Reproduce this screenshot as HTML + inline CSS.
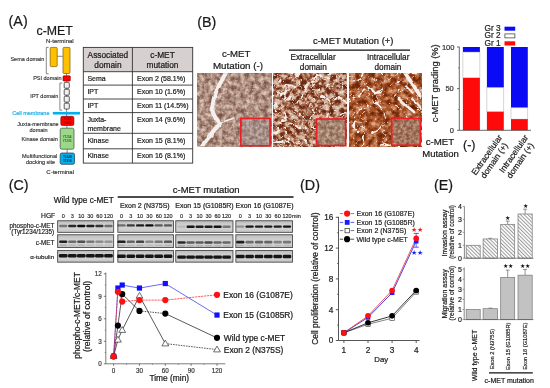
<!DOCTYPE html>
<html><head><meta charset="utf-8"><title>c-MET figure</title>
<style>html,body{margin:0;padding:0;background:#fff;overflow:hidden}svg{display:block}text{font-family:"Liberation Sans", Arial, sans-serif}</style>
</head><body>
<svg width="550" height="388" viewBox="0 0 550 388">
<defs>
<filter id="bl" x="-50%" y="-80%" width="200%" height="260%"><feGaussianBlur stdDeviation="0.5"/></filter>
<linearGradient id="stripg" x1="0" y1="0" x2="0" y2="1"><stop offset="0" stop-color="#bababa"/><stop offset="0.3" stop-color="#cecece"/><stop offset="0.7" stop-color="#d2d2d2"/><stop offset="1" stop-color="#c2c2c2"/></linearGradient>
<pattern id="hatch" patternUnits="userSpaceOnUse" width="2.6" height="2.6" patternTransform="rotate(-45)">
<rect width="2.6" height="2.6" fill="#fff"/><rect x="0" y="0" width="1.0" height="2.6" fill="#9a9a9a"/></pattern>
</defs>
<rect width="550" height="388" fill="#fff"/>
<text x="8.6" y="25.6" font-size="14.3" text-anchor="start" fill="#1a1a1a" stroke="#1a1a1a" stroke-width="0.22" >(A)</text>
<text x="36.5" y="34.7" font-size="12.3" text-anchor="start" fill="#1a1a1a" stroke="#1a1a1a" stroke-width="0.22" >c-MET</text>
<text x="46" y="42.5" font-size="6" text-anchor="start" fill="#333" stroke="#333" stroke-width="0.17" >N-terminal</text>
<path d="M48.6,47.4 H46.3 V73.8 H48.6" stroke="#555" stroke-width="0.7" fill="none" />
<rect x="50.2" y="47.4" width="7.0" height="19.2" fill="#FFC000" stroke="#7a5a00" stroke-width="0.7" rx="1" />
<line x1="57.2" y1="56.3" x2="62.9" y2="56.3" stroke="#555" stroke-width="0.7" />
<rect x="63.0" y="47.4" width="7.0" height="26.1" fill="#FFC000" stroke="#7a5a00" stroke-width="0.7" rx="1" />
<line x1="66.5" y1="73.5" x2="66.5" y2="75.8" stroke="#555" stroke-width="0.7" />
<rect x="63.0" y="75.8" width="7.3" height="5.3" fill="#FF0000" stroke="#7a0000" stroke-width="0.6" rx="0.8" />
<line x1="66.6" y1="81.1" x2="66.6" y2="116.3" stroke="#555" stroke-width="0.7" />
<rect x="64.2" y="82.3" width="5.1" height="5.9" fill="#f0f0f0" stroke="#2a2a2a" stroke-width="0.75" rx="0.9" />
<rect x="64.2" y="89.25" width="5.1" height="5.9" fill="#f0f0f0" stroke="#2a2a2a" stroke-width="0.75" rx="0.9" />
<rect x="64.2" y="96.2" width="5.1" height="5.9" fill="#f0f0f0" stroke="#2a2a2a" stroke-width="0.75" rx="0.9" />
<rect x="64.2" y="103.15" width="5.1" height="5.9" fill="#f0f0f0" stroke="#2a2a2a" stroke-width="0.75" rx="0.9" />
<path d="M62.2,83.0 H59.9 V110.2 H62.2" stroke="#555" stroke-width="0.7" fill="none" />
<rect x="52.8" y="111.9" width="27.2" height="2.6" fill="#00B0F0" stroke="none" stroke-width="1" rx="0" />
<rect x="60.8" y="116.3" width="13.1" height="9.2" fill="#FF0000" stroke="#600" stroke-width="0.6" rx="1.6" />
<text x="67.35" y="120.0" font-size="2.6" text-anchor="middle" fill="#900" stroke="#900" stroke-width="0.07" >Y1003</text>
<text x="67.35" y="123.6" font-size="2.6" text-anchor="middle" fill="#900" stroke="#900" stroke-width="0.07" >Y1003</text>
<line x1="66.9" y1="125.5" x2="66.9" y2="128.2" stroke="#555" stroke-width="0.7" />
<rect x="60.2" y="128.2" width="13.8" height="21.0" fill="#9bd88a" stroke="#3a4a3a" stroke-width="0.7" rx="1.6" />
<text x="67.1" y="137.6" font-size="3.0" text-anchor="middle" fill="#1f5a1f" stroke="#1f5a1f" stroke-width="0.08" >Y1234</text>
<text x="67.1" y="141.6" font-size="3.0" text-anchor="middle" fill="#1f5a1f" stroke="#1f5a1f" stroke-width="0.08" >Y1235</text>
<line x1="67.1" y1="149.2" x2="67.1" y2="153.0" stroke="#555" stroke-width="0.7" />
<rect x="60.2" y="153.0" width="14.3" height="11.3" fill="#00B0F0" stroke="#234" stroke-width="0.7" rx="1.6" />
<text x="67.3" y="157.9" font-size="3.0" text-anchor="middle" fill="#023" stroke="#023" stroke-width="0.08" >Y1349</text>
<text x="67.3" y="161.9" font-size="3.0" text-anchor="middle" fill="#023" stroke="#023" stroke-width="0.08" >Y1356</text>
<text x="44.4" y="60.8" font-size="5.5" text-anchor="end" fill="#333" stroke="#333" stroke-width="0.15" >Sema domain</text>
<text x="61.6" y="80.3" font-size="5.5" text-anchor="end" fill="#333" stroke="#333" stroke-width="0.15" >PSI domain</text>
<text x="58.4" y="97.9" font-size="5.5" text-anchor="end" fill="#333" stroke="#333" stroke-width="0.15" >IPT domain</text>
<text x="12.2" y="114.8" font-size="5.5" text-anchor="start" fill="#1cb2e6" stroke="#1cb2e6" stroke-width="0.20" >Cell membrane</text>
<text x="58.6" y="126.3" font-size="5.5" text-anchor="end" fill="#333" stroke="#333" stroke-width="0.15" >Juxta-membrane</text>
<text x="38.6" y="132.4" font-size="5.5" text-anchor="middle" fill="#333" stroke="#333" stroke-width="0.15" >domain</text>
<text x="57.9" y="141.0" font-size="5.5" text-anchor="end" fill="#333" stroke="#333" stroke-width="0.15" >Kinase domain</text>
<text x="39.6" y="158.1" font-size="5.5" text-anchor="middle" fill="#333" stroke="#333" stroke-width="0.15" >Multifunctional</text>
<text x="40.6" y="164.2" font-size="5.5" text-anchor="middle" fill="#333" stroke="#333" stroke-width="0.15" >docking site</text>
<text x="46.3" y="173.6" font-size="6" text-anchor="start" fill="#333" stroke="#333" stroke-width="0.17" >C-terminal</text>
<rect x="83.3" y="47.4" width="109.4" height="24.3" fill="#d6d0d0" stroke="none" stroke-width="1" rx="0" />
<rect x="83.3" y="47.4" width="109.4" height="115.7" fill="none" stroke="#333" stroke-width="0.9" rx="0" />
<line x1="132.4" y1="47.4" x2="132.4" y2="163.1" stroke="#333" stroke-width="0.9" />
<line x1="83.3" y1="71.7" x2="192.7" y2="71.7" stroke="#333" stroke-width="0.9" />
<line x1="83.3" y1="85.1" x2="192.7" y2="85.1" stroke="#333" stroke-width="0.9" />
<line x1="83.3" y1="99.0" x2="192.7" y2="99.0" stroke="#333" stroke-width="0.9" />
<line x1="83.3" y1="112.6" x2="192.7" y2="112.6" stroke="#333" stroke-width="0.9" />
<line x1="83.3" y1="133.3" x2="192.7" y2="133.3" stroke="#333" stroke-width="0.9" />
<line x1="83.3" y1="148.8" x2="192.7" y2="148.8" stroke="#333" stroke-width="0.9" />
<text x="107.9" y="58.4" font-size="8.3" text-anchor="middle" fill="#1a1a1a" stroke="#1a1a1a" stroke-width="0.22" >Associated</text>
<text x="107.9" y="67.7" font-size="8.3" text-anchor="middle" fill="#1a1a1a" stroke="#1a1a1a" stroke-width="0.22" >domain</text>
<text x="162.5" y="58.3" font-size="8.3" text-anchor="middle" fill="#1a1a1a" stroke="#1a1a1a" stroke-width="0.22" >c-MET</text>
<text x="162.5" y="67.8" font-size="8.3" text-anchor="middle" fill="#1a1a1a" stroke="#1a1a1a" stroke-width="0.22" >mutation</text>
<text x="87.4" y="80.7" font-size="7" text-anchor="start" fill="#1a1a1a" stroke="#1a1a1a" stroke-width="0.19" >Sema</text>
<text x="137.0" y="80.7" font-size="7" text-anchor="start" fill="#1a1a1a" stroke="#1a1a1a" stroke-width="0.19" >Exon 2 (58.1%)</text>
<text x="87.4" y="94.3" font-size="7" text-anchor="start" fill="#1a1a1a" stroke="#1a1a1a" stroke-width="0.19" >IPT</text>
<text x="137.0" y="94.3" font-size="7" text-anchor="start" fill="#1a1a1a" stroke="#1a1a1a" stroke-width="0.19" >Exon 10 (1.6%)</text>
<text x="87.4" y="107.9" font-size="7" text-anchor="start" fill="#1a1a1a" stroke="#1a1a1a" stroke-width="0.19" >IPT</text>
<text x="137.0" y="107.9" font-size="7" text-anchor="start" fill="#1a1a1a" stroke="#1a1a1a" stroke-width="0.19" >Exon 11 (14.5%)</text>
<text x="87.4" y="121.8" font-size="7" text-anchor="start" fill="#1a1a1a" stroke="#1a1a1a" stroke-width="0.19" >Juxta-</text>
<text x="137.0" y="121.8" font-size="7" text-anchor="start" fill="#1a1a1a" stroke="#1a1a1a" stroke-width="0.19" >Exon 14 (9.6%)</text>
<text x="87.4" y="142.6" font-size="7" text-anchor="start" fill="#1a1a1a" stroke="#1a1a1a" stroke-width="0.19" >Kinase</text>
<text x="137.0" y="142.6" font-size="7" text-anchor="start" fill="#1a1a1a" stroke="#1a1a1a" stroke-width="0.19" >Exon 15 (8.1%)</text>
<text x="87.4" y="158.1" font-size="7" text-anchor="start" fill="#1a1a1a" stroke="#1a1a1a" stroke-width="0.19" >Kinase</text>
<text x="137.0" y="158.1" font-size="7" text-anchor="start" fill="#1a1a1a" stroke="#1a1a1a" stroke-width="0.19" >Exon 16 (8.1%)</text>
<text x="87.4" y="130.7" font-size="7" text-anchor="start" fill="#1a1a1a" stroke="#1a1a1a" stroke-width="0.19" >membrane</text>
<text x="197.3" y="26.8" font-size="14.3" text-anchor="start" fill="#1a1a1a" stroke="#1a1a1a" stroke-width="0.22" >(B)</text>
<text x="236.2" y="57.4" font-size="9.6" text-anchor="middle" fill="#1a1a1a" stroke="#1a1a1a" stroke-width="0.22" >c-MET</text>
<text x="238.0" y="68.9" font-size="9.8" text-anchor="middle" fill="#1a1a1a" stroke="#1a1a1a" stroke-width="0.22" >Mutation (-)</text>
<text x="353.2" y="43.9" font-size="9.4" text-anchor="middle" fill="#1a1a1a" stroke="#1a1a1a" stroke-width="0.22" >c-MET Mutation (+)</text>
<line x1="289" y1="50.1" x2="410" y2="50.1" stroke="#111" stroke-width="1.3" />
<text x="313.1" y="60.0" font-size="8.2" text-anchor="middle" fill="#1a1a1a" stroke="#1a1a1a" stroke-width="0.22" >Extracellular</text>
<text x="313.3" y="70.0" font-size="8.2" text-anchor="middle" fill="#1a1a1a" stroke="#1a1a1a" stroke-width="0.22" >domain</text>
<text x="388.2" y="60.0" font-size="8.2" text-anchor="middle" fill="#1a1a1a" stroke="#1a1a1a" stroke-width="0.22" >Intracellular</text>
<text x="388.0" y="70.0" font-size="8.2" text-anchor="middle" fill="#1a1a1a" stroke="#1a1a1a" stroke-width="0.22" >domain</text>
<defs>
<filter id="hs0" x="0" y="0" width="100%" height="100%" filterUnits="objectBoundingBox" color-interpolation-filters="sRGB">
<feTurbulence type="fractalNoise" baseFrequency="0.22" numOctaves="4" seed="3" result="n"/>
<feColorMatrix in="n" type="matrix" values="1 0 0 0 0  1 0 0 0 0  1 0 0 0 0  0 0 0 0 1"/>
<feComponentTransfer result="m"><feFuncR type="table" tableValues="0.408 0.418 0.427 0.437 0.447 0.457 0.467 0.476 0.486 0.496 0.506 0.516 0.525 0.545 0.565 0.584 0.604 0.623 0.640 0.657 0.675 0.692 0.709 0.726 0.745 0.765 0.784 0.804 0.816 0.827 0.837 0.847 0.858 0.868 0.879 0.889 0.900 0.910 0.920 0.931 0.941"/><feFuncG type="table" tableValues="0.275 0.284 0.293 0.302 0.311 0.320 0.329 0.339 0.348 0.357 0.366 0.375 0.384 0.407 0.430 0.453 0.476 0.498 0.515 0.532 0.549 0.569 0.588 0.608 0.631 0.654 0.678 0.701 0.718 0.732 0.747 0.762 0.776 0.791 0.806 0.821 0.835 0.850 0.865 0.879 0.894"/><feFuncB type="table" tableValues="0.220 0.229 0.238 0.247 0.256 0.265 0.275 0.284 0.293 0.302 0.311 0.320 0.329 0.352 0.375 0.398 0.421 0.443 0.460 0.477 0.494 0.514 0.533 0.553 0.576 0.599 0.623 0.646 0.665 0.682 0.699 0.716 0.733 0.750 0.768 0.785 0.802 0.819 0.836 0.853 0.871"/></feComponentTransfer>
<feTurbulence type="turbulence" baseFrequency="0.16" numOctaves="2" seed="12" result="t2"/>
<feColorMatrix in="t2" type="matrix" values="0 0 0 0 0  0 0 0 0 0  0 0 0 0 0  1 0 0 0 0" result="t2a"/>
<feComponentTransfer in="t2a" result="v2"><feFuncA type="table" tableValues="0 0 0 0.6 0.6 0.6 0.6 0.54 0.48 0.42 0.36 0.3 0.24 0.18 0.12 0.06 0 0 0 0 0 0 0 0 0 0 0 0 0 0 0 0 0 0 0 0 0 0 0 0 0 0 0 0 0 0 0 0 0 0 0 0 0 0 0 0 0 0 0 0 0 0 0 0 0 0 0 0 0 0 0 0 0 0 0 0 0 0 0 0 0 0 0 0 0 0 0 0 0 0 0 0 0 0 0 0 0 0 0 0 0 0 0 0 0 0 0 0 0 0 0 0 0 0 0 0 0 0 0 0 0 0 0 0 0 0 0 0 0 0 0 0 0 0 0 0 0 0 0 0 0 0 0 0 0 0 0 0 0 0 0 0 0 0 0 0 0 0 0 0 0 0 0 0 0 0 0 0 0 0 0 0 0 0 0 0 0 0 0 0 0 0 0 0 0 0 0 0 0 0 0 0 0 0 0 0 0 0 0 0 0"/></feComponentTransfer>
<feFlood flood-color="#dcc8c0"/>
<feComposite in2="v2" operator="in" result="w2"/>
<feTurbulence type="turbulence" baseFrequency="0.05" numOctaves="3" seed="8" result="t"/>
<feColorMatrix in="t" type="matrix" values="0 0 0 0 0  0 0 0 0 0  0 0 0 0 0  1 0 0 0 0" result="ta"/>
<feComponentTransfer in="ta" result="va"><feFuncA type="table" tableValues="0 0 0 0 0 0 0 0 0 0 0 0 0 0 0 0 0 0 0 0 0 0 0 0 0 0 0 0 0 0 0 0 0 0 0 0 0 0 0 0 0 0 0 0 0 0 0 0 0 0 0 0 0 0 0 0 0 0 0 0 0 0 0 0 0 0 0 0 0 0 0 0 0 0 0 0 0 0 0 0 0 0 0 0 0 0 0 0 0 0 0 0 0 0 0 0 0 0 0 0 0 0 0 0 0 0 0 0 0 0 0 0 0 0 0 0 0 0 0 0 0 0 0 0 0 0 0 0 0 0 0 0 0 0 0 0 0 0 0 0 0 0 0 0 0 0 0 0 0 0 0 0 0 0 0 0 0 0 0 0 0 0 0 0 0 0 0 0 0 0 0 0 0 0 0 0 0 0 0 0 0 0 0 0 0 0 0 0 0 0 0 0 0 0 0 0 0 0 0 0 0"/></feComponentTransfer>
<feFlood flood-color="#f4eeec"/>
<feComposite in2="va" operator="in" result="w"/>
<feMerge result="all"><feMergeNode in="m"/><feMergeNode in="w2"/><feMergeNode in="w"/></feMerge>
<feGaussianBlur in="all" stdDeviation="0.3"/>
</filter>
<filter id="hi0" x="0" y="0" width="100%" height="100%" filterUnits="objectBoundingBox" color-interpolation-filters="sRGB">
<feTurbulence type="fractalNoise" baseFrequency="0.3" numOctaves="3" seed="23" result="n"/>
<feColorMatrix in="n" type="matrix" values="1 0 0 0 0  1 0 0 0 0  1 0 0 0 0  0 0 0 0 1"/>
<feComponentTransfer><feFuncR type="table" tableValues="0.439 0.450 0.460 0.470 0.480 0.491 0.501 0.511 0.522 0.532 0.542 0.552 0.563 0.573 0.583 0.594 0.604 0.616 0.627 0.639 0.651 0.665 0.678 0.692 0.706 0.717 0.727 0.738 0.749 0.760 0.771 0.781 0.792 0.803 0.814 0.825 0.835 0.846 0.857 0.868 0.878"/><feFuncG type="table" tableValues="0.345 0.355 0.366 0.376 0.386 0.397 0.407 0.417 0.427 0.438 0.448 0.458 0.469 0.479 0.489 0.500 0.510 0.522 0.533 0.545 0.557 0.573 0.588 0.604 0.620 0.633 0.646 0.659 0.673 0.686 0.699 0.712 0.725 0.739 0.752 0.765 0.778 0.792 0.805 0.818 0.831"/><feFuncB type="table" tableValues="0.306 0.317 0.327 0.338 0.349 0.360 0.371 0.381 0.392 0.403 0.414 0.425 0.435 0.446 0.457 0.468 0.478 0.490 0.502 0.514 0.525 0.541 0.557 0.573 0.588 0.602 0.617 0.631 0.645 0.659 0.674 0.688 0.702 0.716 0.730 0.745 0.759 0.773 0.787 0.801 0.816"/></feComponentTransfer>
<feGaussianBlur stdDeviation="0.25"/>
</filter>
<filter id="hs1" x="0" y="0" width="100%" height="100%" filterUnits="objectBoundingBox" color-interpolation-filters="sRGB">
<feTurbulence type="fractalNoise" baseFrequency="0.2" numOctaves="4" seed="7" result="n"/>
<feColorMatrix in="n" type="matrix" values="1 0 0 0 0  1 0 0 0 0  1 0 0 0 0  0 0 0 0 1"/>
<feComponentTransfer result="m"><feFuncR type="table" tableValues="0.290 0.301 0.313 0.324 0.335 0.346 0.357 0.369 0.380 0.391 0.402 0.413 0.425 0.436 0.447 0.478 0.510 0.541 0.573 0.608 0.643 0.682 0.722 0.755 0.789 0.818 0.827 0.836 0.845 0.855 0.864 0.873 0.883 0.892 0.901 0.910 0.920 0.929 0.938 0.948 0.957"/><feFuncG type="table" tableValues="0.086 0.094 0.101 0.108 0.115 0.123 0.130 0.137 0.145 0.152 0.159 0.166 0.174 0.181 0.188 0.220 0.251 0.282 0.314 0.361 0.408 0.467 0.525 0.579 0.632 0.678 0.693 0.709 0.724 0.740 0.755 0.770 0.786 0.801 0.817 0.832 0.848 0.863 0.879 0.894 0.910"/><feFuncB type="table" tableValues="0.016 0.022 0.028 0.034 0.040 0.046 0.053 0.059 0.065 0.071 0.077 0.083 0.090 0.096 0.102 0.127 0.153 0.178 0.204 0.251 0.298 0.361 0.424 0.485 0.547 0.600 0.619 0.638 0.657 0.676 0.695 0.714 0.734 0.753 0.772 0.791 0.810 0.829 0.848 0.867 0.886"/></feComponentTransfer>
<feTurbulence type="turbulence" baseFrequency="0.15" numOctaves="2" seed="16" result="t2"/>
<feColorMatrix in="t2" type="matrix" values="0 0 0 0 0  0 0 0 0 0  0 0 0 0 0  1 0 0 0 0" result="t2a"/>
<feComponentTransfer in="t2a" result="v2"><feFuncA type="table" tableValues="0 0 0 0.85 0.85 0.85 0.85 0.85 0.85 0.78 0.71 0.64 0.57 0.5 0.42 0.35 0.28 0.21 0.14 0.07 0 0 0 0 0 0 0 0 0 0 0 0 0 0 0 0 0 0 0 0 0 0 0 0 0 0 0 0 0 0 0 0 0 0 0 0 0 0 0 0 0 0 0 0 0 0 0 0 0 0 0 0 0 0 0 0 0 0 0 0 0 0 0 0 0 0 0 0 0 0 0 0 0 0 0 0 0 0 0 0 0 0 0 0 0 0 0 0 0 0 0 0 0 0 0 0 0 0 0 0 0 0 0 0 0 0 0 0 0 0 0 0 0 0 0 0 0 0 0 0 0 0 0 0 0 0 0 0 0 0 0 0 0 0 0 0 0 0 0 0 0 0 0 0 0 0 0 0 0 0 0 0 0 0 0 0 0 0 0 0 0 0 0 0 0 0 0 0 0 0 0 0 0 0 0 0 0 0 0 0 0"/></feComponentTransfer>
<feFlood flood-color="#f0e0d6"/>
<feComposite in2="v2" operator="in" result="w2"/>
<feTurbulence type="turbulence" baseFrequency="0.07" numOctaves="3" seed="12" result="t"/>
<feColorMatrix in="t" type="matrix" values="0 0 0 0 0  0 0 0 0 0  0 0 0 0 0  1 0 0 0 0" result="ta"/>
<feComponentTransfer in="ta" result="va"><feFuncA type="table" tableValues="0 0 0 1 1 1 1 1 1 1 1 1 1 1 1 1 1 1 1 1 1 0.92 0.83 0.75 0.67 0.58 0.5 0.42 0.33 0.25 0.17 0.08 0 0 0 0 0 0 0 0 0 0 0 0 0 0 0 0 0 0 0 0 0 0 0 0 0 0 0 0 0 0 0 0 0 0 0 0 0 0 0 0 0 0 0 0 0 0 0 0 0 0 0 0 0 0 0 0 0 0 0 0 0 0 0 0 0 0 0 0 0 0 0 0 0 0 0 0 0 0 0 0 0 0 0 0 0 0 0 0 0 0 0 0 0 0 0 0 0 0 0 0 0 0 0 0 0 0 0 0 0 0 0 0 0 0 0 0 0 0 0 0 0 0 0 0 0 0 0 0 0 0 0 0 0 0 0 0 0 0 0 0 0 0 0 0 0 0 0 0 0 0 0 0 0 0 0 0 0 0 0 0 0 0 0 0 0 0 0 0 0"/></feComponentTransfer>
<feFlood flood-color="#f4ebe6"/>
<feComposite in2="va" operator="in" result="w"/>
<feMerge result="all"><feMergeNode in="m"/><feMergeNode in="w2"/><feMergeNode in="w"/></feMerge>
<feGaussianBlur in="all" stdDeviation="0.3"/>
</filter>
<filter id="hi1" x="0" y="0" width="100%" height="100%" filterUnits="objectBoundingBox" color-interpolation-filters="sRGB">
<feTurbulence type="fractalNoise" baseFrequency="0.3" numOctaves="3" seed="27" result="n"/>
<feColorMatrix in="n" type="matrix" values="1 0 0 0 0  1 0 0 0 0  1 0 0 0 0  0 0 0 0 1"/>
<feComponentTransfer><feFuncR type="table" tableValues="0.416 0.426 0.437 0.448 0.459 0.470 0.480 0.491 0.502 0.513 0.524 0.534 0.545 0.556 0.567 0.577 0.588 0.602 0.616 0.629 0.643 0.659 0.675 0.690 0.706 0.718 0.729 0.741 0.753 0.765 0.776 0.788 0.800 0.812 0.824 0.835 0.847 0.859 0.871 0.882 0.894"/><feFuncG type="table" tableValues="0.290 0.300 0.311 0.321 0.331 0.342 0.352 0.362 0.373 0.383 0.393 0.403 0.414 0.424 0.434 0.445 0.455 0.469 0.482 0.496 0.510 0.527 0.545 0.563 0.580 0.595 0.610 0.625 0.639 0.654 0.669 0.683 0.698 0.713 0.727 0.742 0.757 0.772 0.786 0.801 0.816"/><feFuncB type="table" tableValues="0.220 0.230 0.240 0.250 0.261 0.271 0.281 0.292 0.302 0.312 0.323 0.333 0.343 0.353 0.364 0.374 0.384 0.396 0.408 0.420 0.431 0.447 0.463 0.478 0.494 0.511 0.528 0.546 0.563 0.580 0.597 0.614 0.631 0.649 0.666 0.683 0.700 0.717 0.734 0.751 0.769"/></feComponentTransfer>
<feGaussianBlur stdDeviation="0.25"/>
</filter>
<filter id="hs2" x="0" y="0" width="100%" height="100%" filterUnits="objectBoundingBox" color-interpolation-filters="sRGB">
<feTurbulence type="fractalNoise" baseFrequency="0.18" numOctaves="4" seed="11" result="n"/>
<feColorMatrix in="n" type="matrix" values="1 0 0 0 0  1 0 0 0 0  1 0 0 0 0  0 0 0 0 1"/>
<feComponentTransfer result="m"><feFuncR type="table" tableValues="0.314 0.326 0.339 0.351 0.364 0.376 0.389 0.401 0.414 0.426 0.439 0.451 0.463 0.476 0.500 0.528 0.555 0.583 0.608 0.634 0.659 0.678 0.698 0.718 0.737 0.757 0.776 0.791 0.801 0.811 0.822 0.832 0.842 0.853 0.863 0.874 0.884 0.894 0.905 0.915 0.925"/><feFuncG type="table" tableValues="0.094 0.101 0.107 0.114 0.120 0.127 0.133 0.140 0.146 0.153 0.159 0.166 0.173 0.179 0.198 0.219 0.241 0.262 0.285 0.307 0.329 0.355 0.380 0.407 0.439 0.472 0.505 0.530 0.552 0.573 0.594 0.616 0.637 0.658 0.680 0.701 0.722 0.744 0.765 0.787 0.808"/><feFuncB type="table" tableValues="0.000 0.004 0.008 0.012 0.017 0.021 0.025 0.029 0.033 0.037 0.042 0.046 0.050 0.054 0.066 0.080 0.093 0.107 0.125 0.145 0.165 0.190 0.215 0.243 0.280 0.317 0.354 0.385 0.412 0.439 0.466 0.493 0.520 0.548 0.575 0.602 0.629 0.656 0.683 0.710 0.737"/></feComponentTransfer>
<feTurbulence type="turbulence" baseFrequency="0.13" numOctaves="2" seed="20" result="t2"/>
<feColorMatrix in="t2" type="matrix" values="0 0 0 0 0  0 0 0 0 0  0 0 0 0 0  1 0 0 0 0" result="t2a"/>
<feComponentTransfer in="t2a" result="v2"><feFuncA type="table" tableValues="0 0 0 0.85 0.85 0.85 0.85 0.85 0.77 0.7 0.62 0.54 0.46 0.39 0.31 0.23 0.15 0.08 0 0 0 0 0 0 0 0 0 0 0 0 0 0 0 0 0 0 0 0 0 0 0 0 0 0 0 0 0 0 0 0 0 0 0 0 0 0 0 0 0 0 0 0 0 0 0 0 0 0 0 0 0 0 0 0 0 0 0 0 0 0 0 0 0 0 0 0 0 0 0 0 0 0 0 0 0 0 0 0 0 0 0 0 0 0 0 0 0 0 0 0 0 0 0 0 0 0 0 0 0 0 0 0 0 0 0 0 0 0 0 0 0 0 0 0 0 0 0 0 0 0 0 0 0 0 0 0 0 0 0 0 0 0 0 0 0 0 0 0 0 0 0 0 0 0 0 0 0 0 0 0 0 0 0 0 0 0 0 0 0 0 0 0 0 0 0 0 0 0 0 0 0 0 0 0 0 0 0 0 0 0 0"/></feComponentTransfer>
<feFlood flood-color="#eed8ca"/>
<feComposite in2="v2" operator="in" result="w2"/>
<feTurbulence type="turbulence" baseFrequency="0.055" numOctaves="3" seed="16" result="t"/>
<feColorMatrix in="t" type="matrix" values="0 0 0 0 0  0 0 0 0 0  0 0 0 0 0  1 0 0 0 0" result="ta"/>
<feComponentTransfer in="ta" result="va"><feFuncA type="table" tableValues="0 0 0 1 1 1 1 1 1 1 1 1 1 1 1 1 1 0.92 0.83 0.75 0.67 0.58 0.5 0.42 0.33 0.25 0.17 0.08 0 0 0 0 0 0 0 0 0 0 0 0 0 0 0 0 0 0 0 0 0 0 0 0 0 0 0 0 0 0 0 0 0 0 0 0 0 0 0 0 0 0 0 0 0 0 0 0 0 0 0 0 0 0 0 0 0 0 0 0 0 0 0 0 0 0 0 0 0 0 0 0 0 0 0 0 0 0 0 0 0 0 0 0 0 0 0 0 0 0 0 0 0 0 0 0 0 0 0 0 0 0 0 0 0 0 0 0 0 0 0 0 0 0 0 0 0 0 0 0 0 0 0 0 0 0 0 0 0 0 0 0 0 0 0 0 0 0 0 0 0 0 0 0 0 0 0 0 0 0 0 0 0 0 0 0 0 0 0 0 0 0 0 0 0 0 0 0 0 0 0 0 0"/></feComponentTransfer>
<feFlood flood-color="#f8f0ec"/>
<feComposite in2="va" operator="in" result="w"/>
<feMerge result="all"><feMergeNode in="m"/><feMergeNode in="w2"/><feMergeNode in="w"/></feMerge>
<feGaussianBlur in="all" stdDeviation="0.3"/>
</filter>
<filter id="hi2" x="0" y="0" width="100%" height="100%" filterUnits="objectBoundingBox" color-interpolation-filters="sRGB">
<feTurbulence type="fractalNoise" baseFrequency="0.3" numOctaves="3" seed="31" result="n"/>
<feColorMatrix in="n" type="matrix" values="1 0 0 0 0  1 0 0 0 0  1 0 0 0 0  0 0 0 0 1"/>
<feComponentTransfer><feFuncR type="table" tableValues="0.416 0.426 0.436 0.447 0.457 0.467 0.477 0.488 0.498 0.508 0.519 0.529 0.539 0.550 0.560 0.570 0.580 0.594 0.608 0.622 0.635 0.651 0.667 0.682 0.698 0.710 0.723 0.735 0.747 0.759 0.772 0.784 0.796 0.808 0.821 0.833 0.845 0.857 0.870 0.882 0.894"/><feFuncG type="table" tableValues="0.227 0.238 0.249 0.260 0.271 0.281 0.292 0.303 0.314 0.325 0.335 0.346 0.357 0.368 0.378 0.389 0.400 0.414 0.427 0.441 0.455 0.473 0.490 0.508 0.525 0.542 0.559 0.575 0.592 0.609 0.625 0.642 0.659 0.675 0.692 0.709 0.725 0.742 0.759 0.775 0.792"/><feFuncB type="table" tableValues="0.141 0.152 0.163 0.174 0.184 0.195 0.206 0.217 0.227 0.238 0.249 0.260 0.271 0.281 0.292 0.303 0.314 0.325 0.337 0.349 0.361 0.378 0.396 0.414 0.431 0.450 0.468 0.486 0.504 0.522 0.540 0.558 0.576 0.595 0.613 0.631 0.649 0.667 0.685 0.703 0.722"/></feComponentTransfer>
<feGaussianBlur stdDeviation="0.25"/>
</filter>
<filter id="wob" x="-10%" y="-10%" width="120%" height="120%"><feTurbulence type="fractalNoise" baseFrequency="0.12" numOctaves="2" seed="4" result="tt"/><feDisplacementMap in="SourceGraphic" in2="tt" scale="2.5" xChannelSelector="R" yChannelSelector="G"/></filter>
<clipPath id="c0"><rect x="197.5" y="73.3" width="73.8" height="73.1"/></clipPath>
<clipPath id="c2"><rect x="349.2" y="73.3" width="72.4" height="73.0"/></clipPath>
</defs>
<rect x="197.5" y="73.3" width="73.8" height="73.1" fill="#a08070" filter="url(#hs0)"/>
<rect x="273.4" y="73.3" width="73.5" height="73.1" fill="#a08070" filter="url(#hs1)"/>
<rect x="349.2" y="73.3" width="72.4" height="73.0" fill="#a08070" filter="url(#hs2)"/>
<g clip-path="url(#c0)"><g fill="none" stroke="#f4f0ee" stroke-linecap="round" stroke-linejoin="round" filter="url(#wob)">
<path d="M227,71 C222,80 217,88 214.5,96 C212,104 211,110 215,117 C218,121 220,123 220,124 C214,130 208,137 201,148" stroke-width="4.0"/>
<path d="M220,123 C224,121 229,120 234,118" stroke-width="1.5"/>
</g></g>
<g clip-path="url(#c2)"><g fill="none" stroke="#f8f0ec" stroke-linecap="round" stroke-linejoin="round" filter="url(#wob)">
<path d="M405,73 C410,80 415,88 421,97" stroke-width="3.6"/>
<path d="M398,98 C403,103 408,107 414,112" stroke-width="2.6"/>
<path d="M406,86 C408,88 410,90 412,92" stroke-width="1.6"/>
<path d="M412,99 C415,101 418,104 421,108" stroke-width="2.0"/>
</g></g>
<rect x="240.8" y="118.4" width="29.2" height="27.4" fill="#a08070" filter="url(#hi0)"/>
<rect x="240.8" y="118.4" width="29.2" height="27.4" fill="none" stroke="#ee1c24" stroke-width="1.6"/>
<rect x="316.6" y="119.0" width="29.0" height="26.5" fill="#a08070" filter="url(#hi1)"/>
<rect x="316.6" y="119.0" width="29.0" height="26.5" fill="none" stroke="#ee1c24" stroke-width="1.6"/>
<rect x="391.7" y="118.4" width="28.6" height="26.8" fill="#a08070" filter="url(#hi2)"/>
<rect x="391.7" y="118.4" width="28.6" height="26.8" fill="none" stroke="#ee1c24" stroke-width="1.6"/>
<rect x="462.9" y="47.000000000000014" width="17.0" height="5.081299999999999" fill="#0a0af5" stroke="none" stroke-width="1" rx="0" />
<rect x="462.9" y="52.08130000000001" width="17.0" height="25.822999999999993" fill="#ffffff" stroke="#aaa" stroke-width="0.5" rx="0" />
<rect x="462.9" y="77.9043" width="17.0" height="52.395700000000005" fill="#ff0a0a" stroke="none" stroke-width="1" rx="0" />
<rect x="486.9" y="47.000000000000014" width="16.9" height="40.650400000000005" fill="#0a0af5" stroke="none" stroke-width="1" rx="0" />
<rect x="486.9" y="87.65040000000002" width="16.9" height="24.156999999999996" fill="#ffffff" stroke="#aaa" stroke-width="0.5" rx="0" />
<rect x="486.9" y="111.80740000000002" width="16.9" height="18.492599999999996" fill="#ff0a0a" stroke="none" stroke-width="1" rx="0" />
<rect x="511.0" y="47.000000000000014" width="16.8" height="60.809" fill="#0a0af5" stroke="none" stroke-width="1" rx="0" />
<rect x="511.0" y="107.80900000000001" width="16.8" height="11.328800000000001" fill="#ffffff" stroke="#aaa" stroke-width="0.5" rx="0" />
<rect x="511.0" y="119.13780000000001" width="16.8" height="11.162199999999999" fill="#ff0a0a" stroke="none" stroke-width="1" rx="0" />
<line x1="459.3" y1="46.6" x2="459.3" y2="130.3" stroke="#444" stroke-width="0.8" />
<line x1="459.3" y1="130.3" x2="531" y2="130.3" stroke="#444" stroke-width="0.8" />
<line x1="457.0" y1="130.3" x2="459.3" y2="130.3" stroke="#444" stroke-width="0.8" />
<line x1="457.0" y1="88.65" x2="459.3" y2="88.65" stroke="#444" stroke-width="0.8" />
<line x1="457.0" y1="47.000000000000014" x2="459.3" y2="47.000000000000014" stroke="#444" stroke-width="0.8" />
<line x1="458.0" y1="109.47500000000001" x2="459.3" y2="109.47500000000001" stroke="#444" stroke-width="0.6" />
<line x1="458.0" y1="67.82500000000002" x2="459.3" y2="67.82500000000002" stroke="#444" stroke-width="0.6" />
<text x="454.4" y="49.8" font-size="7.5" text-anchor="end" fill="#333" stroke="#333" stroke-width="0.21" >100</text>
<text x="453.8" y="91.3" font-size="7.5" text-anchor="end" fill="#333" stroke="#333" stroke-width="0.21" >50</text>
<text x="453.8" y="132.9" font-size="7.5" text-anchor="end" fill="#333" stroke="#333" stroke-width="0.21" >0</text>
<text x="484.5" y="30.8" font-size="8.3" text-anchor="start" fill="#222" stroke="#222" stroke-width="0.22" >Gr 3</text>
<text x="484.5" y="38.2" font-size="8.3" text-anchor="start" fill="#222" stroke="#222" stroke-width="0.22" >Gr 2</text>
<text x="484.5" y="45.8" font-size="8.3" text-anchor="start" fill="#222" stroke="#222" stroke-width="0.22" >Gr 1</text>
<rect x="504.5" y="26.7" width="10.7" height="4.0" fill="#0a0af5" stroke="none" stroke-width="1" rx="0" />
<rect x="504.9" y="33.9" width="10.0" height="4.0" fill="#fff" stroke="#333" stroke-width="0.7" rx="0" />
<rect x="504.5" y="41.3" width="10.7" height="4.2" fill="#ff0a0a" stroke="none" stroke-width="1" rx="0" />
<text x="0" y="0" font-size="9.3" text-anchor="middle" fill="#222" stroke="#222" stroke-width="0.22" transform="translate(438.3 83.3) rotate(-90)" >c-MET grading (%)</text>
<text x="440.0" y="145.2" font-size="9.7" text-anchor="middle" fill="#1a1a1a" stroke="#1a1a1a" stroke-width="0.22" >c-MET</text>
<text x="440.5" y="156.6" font-size="9.5" text-anchor="middle" fill="#1a1a1a" stroke="#1a1a1a" stroke-width="0.22" >Mutation</text>
<text x="463.0" y="149.4" font-size="12.5" text-anchor="start" fill="#1a1a1a" stroke="#1a1a1a" stroke-width="0.22" >(-)</text>
<text x="0" y="0" font-size="8.5" text-anchor="end" fill="#1a1a1a" stroke="#1a1a1a" stroke-width="0.22" transform="translate(502.6 137.4) rotate(-55)" >Extracellular</text>
<text x="0" y="0" font-size="8.5" text-anchor="end" fill="#1a1a1a" stroke="#1a1a1a" stroke-width="0.22" transform="translate(508.2 145.4) rotate(-55)" >domain (+)</text>
<text x="0" y="0" font-size="8.5" text-anchor="end" fill="#1a1a1a" stroke="#1a1a1a" stroke-width="0.22" transform="translate(528.6 137.4) rotate(-55)" >Intracellular</text>
<text x="0" y="0" font-size="8.5" text-anchor="end" fill="#1a1a1a" stroke="#1a1a1a" stroke-width="0.22" transform="translate(534.2 145.4) rotate(-55)" >domain (+)</text>
<text x="8.7" y="190.4" font-size="14.3" text-anchor="start" fill="#1a1a1a" stroke="#1a1a1a" stroke-width="0.22" >(C)</text>
<text x="53.7" y="203.3" font-size="8.2" text-anchor="start" fill="#1a1a1a" stroke="#1a1a1a" stroke-width="0.22" >Wild type c-MET</text>
<text x="206.2" y="193.1" font-size="9.5" text-anchor="middle" fill="#1a1a1a" stroke="#1a1a1a" stroke-width="0.22" >c-MET mutation</text>
<line x1="117.7" y1="197.0" x2="293.5" y2="197.0" stroke="#111" stroke-width="1.3" />
<text x="144.8" y="207.9" font-size="7" text-anchor="middle" fill="#1a1a1a" stroke="#1a1a1a" stroke-width="0.19" >Exon 2 (N375S)</text>
<text x="204.5" y="207.9" font-size="7" text-anchor="middle" fill="#1a1a1a" stroke="#1a1a1a" stroke-width="0.19" >Exon 15 (G1085R)</text>
<text x="264.5" y="207.9" font-size="7" text-anchor="middle" fill="#1a1a1a" stroke="#1a1a1a" stroke-width="0.19" >Exon 16 (G1087E)</text>
<text x="55.2" y="218.0" font-size="6.7" text-anchor="end" fill="#1a1a1a" stroke="#1a1a1a" stroke-width="0.18" >HGF</text>
<text x="54.4" y="227.6" font-size="6.3" text-anchor="end" fill="#1a1a1a" stroke="#1a1a1a" stroke-width="0.17" >phospho-c-MET</text>
<text x="54.0" y="234.0" font-size="6.3" text-anchor="end" fill="#1a1a1a" stroke="#1a1a1a" stroke-width="0.17" >(Tyr1234/1235)</text>
<text x="54.4" y="245.0" font-size="6.3" text-anchor="end" fill="#1a1a1a" stroke="#1a1a1a" stroke-width="0.17" >c-MET</text>
<text x="54.1" y="259.4" font-size="6.2" text-anchor="end" fill="#1a1a1a" stroke="#1a1a1a" stroke-width="0.17" >α-tubulin</text>
<rect x="57.650000000000006" y="220.75" width="55.99999999999999" height="11.6" fill="url(#stripg)" stroke="#4a4a4a" stroke-width="0.9" rx="0" />
<rect x="59.1" y="224.8" width="8.2" height="2.4" rx="1.2" fill="#0a0a0a" opacity="0.45" filter="url(#bl)"/>
<rect x="68.2" y="224.8" width="8.2" height="2.4" rx="1.2" fill="#0a0a0a" opacity="0.85" filter="url(#bl)"/>
<rect x="77.2" y="224.8" width="8.2" height="2.4" rx="1.2" fill="#0a0a0a" opacity="1.00" filter="url(#bl)"/>
<rect x="86.3" y="224.8" width="8.2" height="2.4" rx="1.2" fill="#0a0a0a" opacity="0.90" filter="url(#bl)"/>
<rect x="95.3" y="224.8" width="8.2" height="2.4" rx="1.2" fill="#0a0a0a" opacity="0.80" filter="url(#bl)"/>
<rect x="104.4" y="224.8" width="8.2" height="2.4" rx="1.2" fill="#0a0a0a" opacity="0.50" filter="url(#bl)"/>
<rect x="57.650000000000006" y="234.75" width="55.99999999999999" height="12.799999999999988" fill="url(#stripg)" stroke="#4a4a4a" stroke-width="0.9" rx="0" />
<rect x="59.1" y="240.4" width="8.2" height="2.6" rx="1.2" fill="#0a0a0a" opacity="0.90" filter="url(#bl)"/>
<rect x="59.6" y="244.3" width="7.2" height="1.6" rx="0.8" fill="#444" opacity="0.23" filter="url(#bl)"/>
<rect x="68.2" y="240.4" width="8.2" height="2.6" rx="1.2" fill="#0a0a0a" opacity="0.50" filter="url(#bl)"/>
<rect x="68.7" y="244.3" width="7.2" height="1.6" rx="0.8" fill="#444" opacity="0.12" filter="url(#bl)"/>
<rect x="77.2" y="240.4" width="8.2" height="2.6" rx="1.2" fill="#0a0a0a" opacity="0.65" filter="url(#bl)"/>
<rect x="77.7" y="244.3" width="7.2" height="1.6" rx="0.8" fill="#444" opacity="0.16" filter="url(#bl)"/>
<rect x="86.3" y="240.4" width="8.2" height="2.6" rx="1.2" fill="#0a0a0a" opacity="0.45" filter="url(#bl)"/>
<rect x="86.8" y="244.3" width="7.2" height="1.6" rx="0.8" fill="#444" opacity="0.11" filter="url(#bl)"/>
<rect x="95.3" y="240.4" width="8.2" height="2.6" rx="1.2" fill="#0a0a0a" opacity="0.35" filter="url(#bl)"/>
<rect x="95.8" y="244.3" width="7.2" height="1.6" rx="0.8" fill="#444" opacity="0.09" filter="url(#bl)"/>
<rect x="104.4" y="240.4" width="8.2" height="2.6" rx="1.2" fill="#0a0a0a" opacity="0.30" filter="url(#bl)"/>
<rect x="104.9" y="244.3" width="7.2" height="1.6" rx="0.8" fill="#444" opacity="0.07" filter="url(#bl)"/>
<rect x="57.650000000000006" y="250.45" width="55.99999999999999" height="11.700000000000022" fill="url(#stripg)" stroke="#4a4a4a" stroke-width="0.9" rx="0" />
<rect x="58.9" y="254.1" width="8.6" height="3.4" rx="1.2" fill="#0a0a0a" opacity="0.95" filter="url(#bl)"/>
<rect x="68.0" y="254.1" width="8.6" height="3.4" rx="1.2" fill="#0a0a0a" opacity="0.95" filter="url(#bl)"/>
<rect x="77.0" y="254.1" width="8.6" height="3.4" rx="1.2" fill="#0a0a0a" opacity="0.95" filter="url(#bl)"/>
<rect x="86.1" y="254.1" width="8.6" height="3.4" rx="1.2" fill="#0a0a0a" opacity="0.95" filter="url(#bl)"/>
<rect x="95.1" y="254.1" width="8.6" height="3.4" rx="1.2" fill="#0a0a0a" opacity="0.95" filter="url(#bl)"/>
<rect x="104.2" y="254.1" width="8.6" height="3.4" rx="1.2" fill="#0a0a0a" opacity="0.95" filter="url(#bl)"/>
<text x="63.2" y="218.4" font-size="5.5" text-anchor="middle" fill="#222" stroke="#222" stroke-width="0.15" >0</text>
<text x="72.25" y="218.4" font-size="5.5" text-anchor="middle" fill="#222" stroke="#222" stroke-width="0.15" >3</text>
<text x="81.30000000000001" y="218.4" font-size="5.5" text-anchor="middle" fill="#222" stroke="#222" stroke-width="0.15" >10</text>
<text x="90.35000000000001" y="218.4" font-size="5.5" text-anchor="middle" fill="#222" stroke="#222" stroke-width="0.15" >30</text>
<text x="99.4" y="218.4" font-size="5.5" text-anchor="middle" fill="#222" stroke="#222" stroke-width="0.15" >60</text>
<text x="108.45" y="218.4" font-size="5.5" text-anchor="middle" fill="#222" stroke="#222" stroke-width="0.15" >120</text>
<rect x="117.85000000000001" y="220.75" width="55.6" height="11.6" fill="url(#stripg)" stroke="#4a4a4a" stroke-width="0.9" rx="0" />
<rect x="117.4" y="224.2" width="8.2" height="2.4" rx="1.2" fill="#0a0a0a" opacity="0.50" filter="url(#bl)"/>
<rect x="126.7" y="224.2" width="8.2" height="2.4" rx="1.2" fill="#0a0a0a" opacity="0.75" filter="url(#bl)"/>
<rect x="136.0" y="224.2" width="8.2" height="2.4" rx="1.2" fill="#0a0a0a" opacity="0.90" filter="url(#bl)"/>
<rect x="145.3" y="224.2" width="8.2" height="2.4" rx="1.2" fill="#0a0a0a" opacity="1.00" filter="url(#bl)"/>
<rect x="154.6" y="224.2" width="8.2" height="2.4" rx="1.2" fill="#0a0a0a" opacity="0.60" filter="url(#bl)"/>
<rect x="163.9" y="224.2" width="8.2" height="2.4" rx="1.2" fill="#0a0a0a" opacity="0.60" filter="url(#bl)"/>
<rect x="117.85000000000001" y="234.75" width="55.6" height="12.799999999999988" fill="url(#stripg)" stroke="#4a4a4a" stroke-width="0.9" rx="0" />
<rect x="117.4" y="240.5" width="8.2" height="2.6" rx="1.2" fill="#0a0a0a" opacity="0.90" filter="url(#bl)"/>
<rect x="117.9" y="244.4" width="7.2" height="1.6" rx="0.8" fill="#444" opacity="0.23" filter="url(#bl)"/>
<rect x="126.7" y="240.5" width="8.2" height="2.6" rx="1.2" fill="#0a0a0a" opacity="0.55" filter="url(#bl)"/>
<rect x="127.2" y="244.4" width="7.2" height="1.6" rx="0.8" fill="#444" opacity="0.14" filter="url(#bl)"/>
<rect x="136.0" y="240.5" width="8.2" height="2.6" rx="1.2" fill="#0a0a0a" opacity="0.70" filter="url(#bl)"/>
<rect x="136.5" y="244.4" width="7.2" height="1.6" rx="0.8" fill="#444" opacity="0.17" filter="url(#bl)"/>
<rect x="145.3" y="240.5" width="8.2" height="2.6" rx="1.2" fill="#0a0a0a" opacity="0.35" filter="url(#bl)"/>
<rect x="145.8" y="244.4" width="7.2" height="1.6" rx="0.8" fill="#444" opacity="0.09" filter="url(#bl)"/>
<rect x="154.6" y="240.5" width="8.2" height="2.6" rx="1.2" fill="#0a0a0a" opacity="0.45" filter="url(#bl)"/>
<rect x="155.1" y="244.4" width="7.2" height="1.6" rx="0.8" fill="#444" opacity="0.11" filter="url(#bl)"/>
<rect x="163.9" y="240.5" width="8.2" height="2.6" rx="1.2" fill="#0a0a0a" opacity="0.60" filter="url(#bl)"/>
<rect x="164.4" y="244.4" width="7.2" height="1.6" rx="0.8" fill="#444" opacity="0.15" filter="url(#bl)"/>
<rect x="117.85000000000001" y="250.45" width="55.6" height="11.700000000000022" fill="url(#stripg)" stroke="#4a4a4a" stroke-width="0.9" rx="0" />
<rect x="117.2" y="254.6" width="8.6" height="3.4" rx="1.2" fill="#0a0a0a" opacity="0.95" filter="url(#bl)"/>
<rect x="126.5" y="254.6" width="8.6" height="3.4" rx="1.2" fill="#0a0a0a" opacity="0.95" filter="url(#bl)"/>
<rect x="135.8" y="254.6" width="8.6" height="3.4" rx="1.2" fill="#0a0a0a" opacity="0.95" filter="url(#bl)"/>
<rect x="145.1" y="254.6" width="8.6" height="3.4" rx="1.2" fill="#0a0a0a" opacity="0.95" filter="url(#bl)"/>
<rect x="154.4" y="254.6" width="8.6" height="3.4" rx="1.2" fill="#0a0a0a" opacity="0.95" filter="url(#bl)"/>
<rect x="163.7" y="254.6" width="8.6" height="3.4" rx="1.2" fill="#0a0a0a" opacity="0.95" filter="url(#bl)"/>
<text x="121.5" y="218.4" font-size="5.5" text-anchor="middle" fill="#222" stroke="#222" stroke-width="0.15" >0</text>
<text x="130.8" y="218.4" font-size="5.5" text-anchor="middle" fill="#222" stroke="#222" stroke-width="0.15" >3</text>
<text x="140.1" y="218.4" font-size="5.5" text-anchor="middle" fill="#222" stroke="#222" stroke-width="0.15" >10</text>
<text x="149.4" y="218.4" font-size="5.5" text-anchor="middle" fill="#222" stroke="#222" stroke-width="0.15" >30</text>
<text x="158.7" y="218.4" font-size="5.5" text-anchor="middle" fill="#222" stroke="#222" stroke-width="0.15" >60</text>
<text x="168.0" y="218.4" font-size="5.5" text-anchor="middle" fill="#222" stroke="#222" stroke-width="0.15" >120</text>
<rect x="175.75" y="220.75" width="57.199999999999996" height="11.6" fill="url(#stripg)" stroke="#4a4a4a" stroke-width="0.9" rx="0" />
<rect x="177.5" y="225.6" width="8.2" height="2.4" rx="1.2" fill="#0a0a0a" opacity="0.10" filter="url(#bl)"/>
<rect x="186.5" y="225.6" width="8.2" height="2.4" rx="1.2" fill="#0a0a0a" opacity="0.95" filter="url(#bl)"/>
<rect x="195.5" y="225.6" width="8.2" height="2.4" rx="1.2" fill="#0a0a0a" opacity="0.90" filter="url(#bl)"/>
<rect x="204.5" y="225.6" width="8.2" height="2.4" rx="1.2" fill="#0a0a0a" opacity="0.90" filter="url(#bl)"/>
<rect x="213.5" y="225.6" width="8.2" height="2.4" rx="1.2" fill="#0a0a0a" opacity="0.95" filter="url(#bl)"/>
<rect x="222.5" y="225.6" width="8.2" height="2.4" rx="1.2" fill="#0a0a0a" opacity="0.45" filter="url(#bl)"/>
<rect x="175.75" y="234.75" width="57.199999999999996" height="12.799999999999988" fill="url(#stripg)" stroke="#4a4a4a" stroke-width="0.9" rx="0" />
<rect x="177.5" y="241.2" width="8.2" height="2.6" rx="1.2" fill="#0a0a0a" opacity="0.85" filter="url(#bl)"/>
<rect x="178.0" y="245.1" width="7.2" height="1.6" rx="0.8" fill="#444" opacity="0.21" filter="url(#bl)"/>
<rect x="186.5" y="241.2" width="8.2" height="2.6" rx="1.2" fill="#0a0a0a" opacity="0.60" filter="url(#bl)"/>
<rect x="187.0" y="245.1" width="7.2" height="1.6" rx="0.8" fill="#444" opacity="0.15" filter="url(#bl)"/>
<rect x="195.5" y="241.2" width="8.2" height="2.6" rx="1.2" fill="#0a0a0a" opacity="0.60" filter="url(#bl)"/>
<rect x="196.0" y="245.1" width="7.2" height="1.6" rx="0.8" fill="#444" opacity="0.15" filter="url(#bl)"/>
<rect x="204.5" y="241.2" width="8.2" height="2.6" rx="1.2" fill="#0a0a0a" opacity="0.70" filter="url(#bl)"/>
<rect x="205.0" y="245.1" width="7.2" height="1.6" rx="0.8" fill="#444" opacity="0.17" filter="url(#bl)"/>
<rect x="213.5" y="241.2" width="8.2" height="2.6" rx="1.2" fill="#0a0a0a" opacity="0.55" filter="url(#bl)"/>
<rect x="214.0" y="245.1" width="7.2" height="1.6" rx="0.8" fill="#444" opacity="0.14" filter="url(#bl)"/>
<rect x="222.5" y="241.2" width="8.2" height="2.6" rx="1.2" fill="#0a0a0a" opacity="0.55" filter="url(#bl)"/>
<rect x="223.0" y="245.1" width="7.2" height="1.6" rx="0.8" fill="#444" opacity="0.14" filter="url(#bl)"/>
<rect x="175.75" y="250.45" width="57.199999999999996" height="11.700000000000022" fill="url(#stripg)" stroke="#4a4a4a" stroke-width="0.9" rx="0" />
<rect x="177.3" y="255.4" width="8.6" height="3.4" rx="1.2" fill="#0a0a0a" opacity="0.95" filter="url(#bl)"/>
<rect x="186.3" y="255.4" width="8.6" height="3.4" rx="1.2" fill="#0a0a0a" opacity="0.95" filter="url(#bl)"/>
<rect x="195.3" y="255.4" width="8.6" height="3.4" rx="1.2" fill="#0a0a0a" opacity="0.95" filter="url(#bl)"/>
<rect x="204.3" y="255.4" width="8.6" height="3.4" rx="1.2" fill="#0a0a0a" opacity="0.95" filter="url(#bl)"/>
<rect x="213.3" y="255.4" width="8.6" height="3.4" rx="1.2" fill="#0a0a0a" opacity="0.95" filter="url(#bl)"/>
<rect x="222.3" y="255.4" width="8.6" height="3.4" rx="1.2" fill="#0a0a0a" opacity="0.95" filter="url(#bl)"/>
<text x="181.6" y="218.4" font-size="5.5" text-anchor="middle" fill="#222" stroke="#222" stroke-width="0.15" >0</text>
<text x="190.6" y="218.4" font-size="5.5" text-anchor="middle" fill="#222" stroke="#222" stroke-width="0.15" >3</text>
<text x="199.6" y="218.4" font-size="5.5" text-anchor="middle" fill="#222" stroke="#222" stroke-width="0.15" >10</text>
<text x="208.6" y="218.4" font-size="5.5" text-anchor="middle" fill="#222" stroke="#222" stroke-width="0.15" >30</text>
<text x="217.6" y="218.4" font-size="5.5" text-anchor="middle" fill="#222" stroke="#222" stroke-width="0.15" >60</text>
<text x="226.6" y="218.4" font-size="5.5" text-anchor="middle" fill="#222" stroke="#222" stroke-width="0.15" >120</text>
<rect x="235.85" y="220.75" width="56.59999999999997" height="11.6" fill="url(#stripg)" stroke="#4a4a4a" stroke-width="0.9" rx="0" />
<rect x="236.2" y="225.4" width="8.2" height="2.4" rx="1.2" fill="#0a0a0a" opacity="0.30" filter="url(#bl)"/>
<rect x="245.5" y="225.4" width="8.2" height="2.4" rx="1.2" fill="#0a0a0a" opacity="0.95" filter="url(#bl)"/>
<rect x="254.9" y="225.4" width="8.2" height="2.4" rx="1.2" fill="#0a0a0a" opacity="0.90" filter="url(#bl)"/>
<rect x="264.2" y="225.4" width="8.2" height="2.4" rx="1.2" fill="#0a0a0a" opacity="0.90" filter="url(#bl)"/>
<rect x="273.6" y="225.4" width="8.2" height="2.4" rx="1.2" fill="#0a0a0a" opacity="0.90" filter="url(#bl)"/>
<rect x="282.9" y="225.4" width="8.2" height="2.4" rx="1.2" fill="#0a0a0a" opacity="0.95" filter="url(#bl)"/>
<rect x="235.85" y="234.75" width="56.59999999999997" height="12.799999999999988" fill="url(#stripg)" stroke="#4a4a4a" stroke-width="0.9" rx="0" />
<rect x="236.2" y="240.8" width="8.2" height="2.6" rx="1.2" fill="#0a0a0a" opacity="0.90" filter="url(#bl)"/>
<rect x="236.7" y="244.7" width="7.2" height="1.6" rx="0.8" fill="#444" opacity="0.23" filter="url(#bl)"/>
<rect x="245.5" y="240.8" width="8.2" height="2.6" rx="1.2" fill="#0a0a0a" opacity="0.50" filter="url(#bl)"/>
<rect x="246.0" y="244.7" width="7.2" height="1.6" rx="0.8" fill="#444" opacity="0.12" filter="url(#bl)"/>
<rect x="254.9" y="240.8" width="8.2" height="2.6" rx="1.2" fill="#0a0a0a" opacity="0.55" filter="url(#bl)"/>
<rect x="255.4" y="244.7" width="7.2" height="1.6" rx="0.8" fill="#444" opacity="0.14" filter="url(#bl)"/>
<rect x="264.2" y="240.8" width="8.2" height="2.6" rx="1.2" fill="#0a0a0a" opacity="0.55" filter="url(#bl)"/>
<rect x="264.7" y="244.7" width="7.2" height="1.6" rx="0.8" fill="#444" opacity="0.14" filter="url(#bl)"/>
<rect x="273.6" y="240.8" width="8.2" height="2.6" rx="1.2" fill="#0a0a0a" opacity="0.40" filter="url(#bl)"/>
<rect x="274.1" y="244.7" width="7.2" height="1.6" rx="0.8" fill="#444" opacity="0.10" filter="url(#bl)"/>
<rect x="282.9" y="240.8" width="8.2" height="2.6" rx="1.2" fill="#0a0a0a" opacity="0.45" filter="url(#bl)"/>
<rect x="283.4" y="244.7" width="7.2" height="1.6" rx="0.8" fill="#444" opacity="0.11" filter="url(#bl)"/>
<rect x="235.85" y="250.45" width="56.59999999999997" height="11.700000000000022" fill="url(#stripg)" stroke="#4a4a4a" stroke-width="0.9" rx="0" />
<rect x="236.0" y="254.8" width="8.6" height="3.4" rx="1.2" fill="#0a0a0a" opacity="0.95" filter="url(#bl)"/>
<rect x="245.3" y="254.8" width="8.6" height="3.4" rx="1.2" fill="#0a0a0a" opacity="0.95" filter="url(#bl)"/>
<rect x="254.7" y="254.8" width="8.6" height="3.4" rx="1.2" fill="#0a0a0a" opacity="0.95" filter="url(#bl)"/>
<rect x="264.0" y="254.8" width="8.6" height="3.4" rx="1.2" fill="#0a0a0a" opacity="0.95" filter="url(#bl)"/>
<rect x="273.4" y="254.8" width="8.6" height="3.4" rx="1.2" fill="#0a0a0a" opacity="0.95" filter="url(#bl)"/>
<rect x="282.7" y="254.8" width="8.6" height="3.4" rx="1.2" fill="#0a0a0a" opacity="0.95" filter="url(#bl)"/>
<text x="240.3" y="218.4" font-size="5.5" text-anchor="middle" fill="#222" stroke="#222" stroke-width="0.15" >0</text>
<text x="249.64000000000001" y="218.4" font-size="5.5" text-anchor="middle" fill="#222" stroke="#222" stroke-width="0.15" >3</text>
<text x="258.98" y="218.4" font-size="5.5" text-anchor="middle" fill="#222" stroke="#222" stroke-width="0.15" >10</text>
<text x="268.32" y="218.4" font-size="5.5" text-anchor="middle" fill="#222" stroke="#222" stroke-width="0.15" >30</text>
<text x="277.66" y="218.4" font-size="5.5" text-anchor="middle" fill="#222" stroke="#222" stroke-width="0.15" >60</text>
<text x="287.0" y="218.4" font-size="5.5" text-anchor="middle" fill="#222" stroke="#222" stroke-width="0.15" >120</text>
<text x="292.0" y="218.4" font-size="5.5" text-anchor="start" fill="#222" stroke="#222" stroke-width="0.15" >min</text>
<line x1="105.8" y1="272.5" x2="105.8" y2="363.8" stroke="#444" stroke-width="0.7" />
<line x1="105.8" y1="363.8" x2="225.3" y2="363.8" stroke="#444" stroke-width="0.7" />
<line x1="103.8" y1="363.8" x2="105.8" y2="363.8" stroke="#444" stroke-width="0.7" />
<text x="101.8" y="366.0" font-size="6.3" text-anchor="end" fill="#333" stroke="#333" stroke-width="0.17" >0</text>
<line x1="103.8" y1="341.3" x2="105.8" y2="341.3" stroke="#444" stroke-width="0.7" />
<text x="101.8" y="343.5" font-size="6.3" text-anchor="end" fill="#333" stroke="#333" stroke-width="0.17" >3</text>
<line x1="103.8" y1="318.8" x2="105.8" y2="318.8" stroke="#444" stroke-width="0.7" />
<text x="101.8" y="321.0" font-size="6.3" text-anchor="end" fill="#333" stroke="#333" stroke-width="0.17" >6</text>
<line x1="103.8" y1="296.3" x2="105.8" y2="296.3" stroke="#444" stroke-width="0.7" />
<text x="101.8" y="298.5" font-size="6.3" text-anchor="end" fill="#333" stroke="#333" stroke-width="0.17" >9</text>
<line x1="103.8" y1="273.8" x2="105.8" y2="273.8" stroke="#444" stroke-width="0.7" />
<text x="101.8" y="276.0" font-size="6.3" text-anchor="end" fill="#333" stroke="#333" stroke-width="0.17" >12</text>
<line x1="104.8" y1="352.55" x2="105.8" y2="352.55" stroke="#444" stroke-width="0.6" />
<line x1="104.8" y1="330.05" x2="105.8" y2="330.05" stroke="#444" stroke-width="0.6" />
<line x1="104.8" y1="307.55" x2="105.8" y2="307.55" stroke="#444" stroke-width="0.6" />
<line x1="104.8" y1="285.05" x2="105.8" y2="285.05" stroke="#444" stroke-width="0.6" />
<line x1="113.6" y1="363.8" x2="113.6" y2="365.8" stroke="#444" stroke-width="0.7" />
<text x="113.6" y="373.2" font-size="6.3" text-anchor="middle" fill="#333" stroke="#333" stroke-width="0.17" >0</text>
<line x1="139.451" y1="363.8" x2="139.451" y2="365.8" stroke="#444" stroke-width="0.7" />
<text x="139.451" y="373.2" font-size="6.3" text-anchor="middle" fill="#333" stroke="#333" stroke-width="0.17" >30</text>
<line x1="165.302" y1="363.8" x2="165.302" y2="365.8" stroke="#444" stroke-width="0.7" />
<text x="165.302" y="373.2" font-size="6.3" text-anchor="middle" fill="#333" stroke="#333" stroke-width="0.17" >60</text>
<line x1="191.153" y1="363.8" x2="191.153" y2="365.8" stroke="#444" stroke-width="0.7" />
<text x="191.153" y="373.2" font-size="6.3" text-anchor="middle" fill="#333" stroke="#333" stroke-width="0.17" >90</text>
<line x1="217.004" y1="363.8" x2="217.004" y2="365.8" stroke="#444" stroke-width="0.7" />
<text x="217.004" y="373.2" font-size="6.3" text-anchor="middle" fill="#333" stroke="#333" stroke-width="0.17" >120</text>
<line x1="126.5255" y1="363.8" x2="126.5255" y2="364.8" stroke="#444" stroke-width="0.6" />
<line x1="152.3765" y1="363.8" x2="152.3765" y2="364.8" stroke="#444" stroke-width="0.6" />
<line x1="178.2275" y1="363.8" x2="178.2275" y2="364.8" stroke="#444" stroke-width="0.6" />
<line x1="204.0785" y1="363.8" x2="204.0785" y2="364.8" stroke="#444" stroke-width="0.6" />
<text x="169.3" y="381.2" font-size="8.4" text-anchor="middle" fill="#1a1a1a" stroke="#1a1a1a" stroke-width="0.22" >Time (min)</text>
<text x="0" y="0" font-size="8.4" text-anchor="middle" fill="#1a1a1a" stroke="#1a1a1a" stroke-width="0.22" transform="translate(79.6 315.5) rotate(-90)" >phospho-c-MET/c-MET</text>
<text x="0" y="0" font-size="8.6" text-anchor="middle" fill="#1a1a1a" stroke="#1a1a1a" stroke-width="0.22" transform="translate(89.8 316.4) rotate(-90)" >(relative of control)</text>
<line x1="113.6" y1="356.3" x2="117.9" y2="339.8" stroke="#222" stroke-width="0.75" />
<line x1="117.9" y1="339.8" x2="122.2" y2="330.1" stroke="#222" stroke-width="0.75" />
<line x1="122.2" y1="330.1" x2="139.5" y2="295.9" stroke="#222" stroke-width="0.75" />
<line x1="139.5" y1="295.9" x2="165.3" y2="343.6" stroke="#222" stroke-width="0.75" />
<line x1="165.3" y1="343.6" x2="217.0" y2="349.6" stroke="#222" stroke-width="0.75" stroke-dasharray="1.6,1"/>
<line x1="113.6" y1="356.3" x2="117.9" y2="325.6" stroke="#222" stroke-width="0.75" />
<line x1="117.9" y1="325.6" x2="122.2" y2="294.1" stroke="#222" stroke-width="0.75" />
<line x1="122.2" y1="294.1" x2="139.5" y2="310.9" stroke="#222" stroke-width="0.75" />
<line x1="139.5" y1="310.9" x2="165.3" y2="313.6" stroke="#222" stroke-width="0.75" stroke-dasharray="1.6,1"/>
<line x1="165.3" y1="313.6" x2="217.0" y2="337.9" stroke="#222" stroke-width="0.75" />
<line x1="113.6" y1="356.3" x2="117.9" y2="288.1" stroke="#3a3af0" stroke-width="0.75" />
<line x1="117.9" y1="288.1" x2="122.2" y2="285.1" stroke="#3a3af0" stroke-width="0.75" />
<line x1="122.2" y1="285.1" x2="139.5" y2="288.1" stroke="#3a3af0" stroke-width="0.75" />
<line x1="139.5" y1="288.1" x2="165.3" y2="283.6" stroke="#3a3af0" stroke-width="0.75" />
<line x1="165.3" y1="283.6" x2="217.0" y2="315.1" stroke="#3a3af0" stroke-width="0.75" />
<line x1="113.6" y1="356.3" x2="117.9" y2="291.8" stroke="#f22" stroke-width="0.75" stroke-dasharray="2.2,0.8"/>
<line x1="117.9" y1="291.8" x2="122.2" y2="301.6" stroke="#f22" stroke-width="0.75" stroke-dasharray="2.2,0.8"/>
<line x1="122.2" y1="301.6" x2="139.5" y2="300.1" stroke="#f22" stroke-width="0.75" stroke-dasharray="2.2,0.8"/>
<line x1="139.5" y1="300.1" x2="165.3" y2="300.1" stroke="#f22" stroke-width="0.75" stroke-dasharray="2.2,0.8"/>
<line x1="165.3" y1="300.1" x2="217.0" y2="294.8" stroke="#f22" stroke-width="0.75" stroke-dasharray="2.2,0.8"/>
<path d="M113.6,352.8 L117.0,358.6 L110.2,358.6 Z" stroke="#222" stroke-width="0.65" fill="#fff" />
<path d="M117.9,336.3 L121.3,342.1 L114.5,342.1 Z" stroke="#222" stroke-width="0.65" fill="#fff" />
<path d="M122.2,326.6 L125.6,332.4 L118.8,332.4 Z" stroke="#222" stroke-width="0.65" fill="#fff" />
<path d="M139.5,292.4 L142.9,298.2 L136.1,298.2 Z" stroke="#222" stroke-width="0.65" fill="#fff" />
<path d="M165.3,340.1 L168.7,345.9 L161.9,345.9 Z" stroke="#222" stroke-width="0.65" fill="#fff" />
<path d="M217.0,346.1 L220.4,351.9 L213.6,351.9 Z" stroke="#222" stroke-width="0.65" fill="#fff" />
<circle cx="113.6" cy="356.3" r="3.1" fill="#000" stroke="none" stroke-width="0.6"/>
<circle cx="117.90849999999999" cy="325.55" r="3.1" fill="#000" stroke="none" stroke-width="0.6"/>
<circle cx="122.217" cy="294.05" r="3.1" fill="#000" stroke="none" stroke-width="0.6"/>
<circle cx="139.451" cy="310.925" r="3.1" fill="#000" stroke="none" stroke-width="0.6"/>
<circle cx="165.302" cy="313.55" r="3.1" fill="#000" stroke="none" stroke-width="0.6"/>
<circle cx="217.004" cy="337.85" r="3.1" fill="#000" stroke="none" stroke-width="0.6"/>
<rect x="111.0" y="353.7" width="5.2" height="5.2" fill="#1010ff" stroke="none" stroke-width="1" rx="0" />
<rect x="115.3085" y="285.45" width="5.2" height="5.2" fill="#1010ff" stroke="none" stroke-width="1" rx="0" />
<rect x="119.617" y="282.45" width="5.2" height="5.2" fill="#1010ff" stroke="none" stroke-width="1" rx="0" />
<rect x="136.851" y="285.45" width="5.2" height="5.2" fill="#1010ff" stroke="none" stroke-width="1" rx="0" />
<rect x="162.702" y="280.95" width="5.2" height="5.2" fill="#1010ff" stroke="none" stroke-width="1" rx="0" />
<rect x="214.404" y="312.45" width="5.2" height="5.2" fill="#1010ff" stroke="none" stroke-width="1" rx="0" />
<circle cx="113.6" cy="356.3" r="3.1" fill="#ff1010" stroke="none" stroke-width="0.6"/>
<circle cx="117.90849999999999" cy="291.8" r="3.1" fill="#ff1010" stroke="none" stroke-width="0.6"/>
<circle cx="122.217" cy="301.55" r="3.1" fill="#ff1010" stroke="none" stroke-width="0.6"/>
<circle cx="139.451" cy="300.05" r="3.1" fill="#ff1010" stroke="none" stroke-width="0.6"/>
<circle cx="165.302" cy="300.05" r="3.1" fill="#ff1010" stroke="none" stroke-width="0.6"/>
<circle cx="217.004" cy="294.8" r="3.1" fill="#ff1010" stroke="none" stroke-width="0.6"/>
<text x="223.3" y="298.3" font-size="8.4" text-anchor="start" fill="#1a1a1a" stroke="#1a1a1a" stroke-width="0.22" >Exon 16 (G1087E)</text>
<text x="223.3" y="317.8" font-size="8.4" text-anchor="start" fill="#1a1a1a" stroke="#1a1a1a" stroke-width="0.22" >Exon 15 (G1085R)</text>
<text x="223.8" y="341.2" font-size="8.4" text-anchor="start" fill="#1a1a1a" stroke="#1a1a1a" stroke-width="0.22" >Wild type c-MET</text>
<text x="223.8" y="353.3" font-size="8.4" text-anchor="start" fill="#1a1a1a" stroke="#1a1a1a" stroke-width="0.22" >Exon 2 (N375S)</text>
<text x="300.1" y="189.9" font-size="14.3" text-anchor="start" fill="#1a1a1a" stroke="#1a1a1a" stroke-width="0.22" >(D)</text>
<line x1="338.5" y1="216.8" x2="338.5" y2="340.5" stroke="#444" stroke-width="0.9" />
<line x1="338.5" y1="340.5" x2="419.5" y2="340.5" stroke="#444" stroke-width="0.9" />
<line x1="335.8" y1="340.5" x2="338.5" y2="340.5" stroke="#444" stroke-width="0.9" />
<text x="333.3" y="343.4" font-size="8.2" text-anchor="end" fill="#222" stroke="#222" stroke-width="0.22" >0</text>
<line x1="335.8" y1="309.7" x2="338.5" y2="309.7" stroke="#444" stroke-width="0.9" />
<text x="333.3" y="312.59999999999997" font-size="8.2" text-anchor="end" fill="#222" stroke="#222" stroke-width="0.22" >4</text>
<line x1="335.8" y1="278.9" x2="338.5" y2="278.9" stroke="#444" stroke-width="0.9" />
<text x="333.3" y="281.79999999999995" font-size="8.2" text-anchor="end" fill="#222" stroke="#222" stroke-width="0.22" >8</text>
<line x1="335.8" y1="248.1" x2="338.5" y2="248.1" stroke="#444" stroke-width="0.9" />
<text x="333.3" y="251.0" font-size="8.2" text-anchor="end" fill="#222" stroke="#222" stroke-width="0.22" >12</text>
<line x1="335.8" y1="217.3" x2="338.5" y2="217.3" stroke="#444" stroke-width="0.9" />
<text x="333.3" y="220.20000000000002" font-size="8.2" text-anchor="end" fill="#222" stroke="#222" stroke-width="0.22" >16</text>
<line x1="337.0" y1="325.1" x2="338.5" y2="325.1" stroke="#444" stroke-width="0.7" />
<line x1="337.0" y1="294.3" x2="338.5" y2="294.3" stroke="#444" stroke-width="0.7" />
<line x1="337.0" y1="263.5" x2="338.5" y2="263.5" stroke="#444" stroke-width="0.7" />
<line x1="337.0" y1="232.7" x2="338.5" y2="232.7" stroke="#444" stroke-width="0.7" />
<line x1="343.9" y1="340.5" x2="343.9" y2="343.0" stroke="#444" stroke-width="0.9" />
<text x="343.9" y="353.3" font-size="8.3" text-anchor="middle" fill="#222" stroke="#222" stroke-width="0.22" >1</text>
<line x1="368.0" y1="340.5" x2="368.0" y2="343.0" stroke="#444" stroke-width="0.9" />
<text x="368.0" y="353.3" font-size="8.3" text-anchor="middle" fill="#222" stroke="#222" stroke-width="0.22" >2</text>
<line x1="392.09999999999997" y1="340.5" x2="392.09999999999997" y2="343.0" stroke="#444" stroke-width="0.9" />
<text x="392.09999999999997" y="353.3" font-size="8.3" text-anchor="middle" fill="#222" stroke="#222" stroke-width="0.22" >3</text>
<line x1="416.2" y1="340.5" x2="416.2" y2="343.0" stroke="#444" stroke-width="0.9" />
<text x="416.2" y="353.3" font-size="8.3" text-anchor="middle" fill="#222" stroke="#222" stroke-width="0.22" >4</text>
<text x="381.2" y="361.8" font-size="7.8" text-anchor="middle" fill="#1a1a1a" stroke="#1a1a1a" stroke-width="0.21" >Day</text>
<text x="0" y="0" font-size="8.4" text-anchor="middle" fill="#1a1a1a" stroke="#1a1a1a" stroke-width="0.22" transform="translate(317.6 278.6) rotate(-90)" >Cell proliferation (relative of control)</text>
<polyline points="343.9,332.8 368.0,324.3 392.1,318.2 416.2,292.0" fill="none" stroke="#777" stroke-width="0.9"/>
<polyline points="343.9,332.8 368.0,322.8 392.1,315.9 416.2,290.4" fill="none" stroke="#222" stroke-width="0.9"/>
<polyline points="343.9,332.8 368.0,317.4 392.1,292.8 416.2,241.2" fill="none" stroke="#3030f0" stroke-width="0.9"/>
<polyline points="343.9,332.8 368.0,315.9 392.1,290.4 416.2,238.4" fill="none" stroke="#f03030" stroke-width="0.8"/>
<line x1="416.2" y1="233.4" x2="416.2" y2="247.2" stroke="#3030f0" stroke-width="0.7" />
<line x1="413.59999999999997" y1="233.4" x2="418.8" y2="233.4" stroke="#3030f0" stroke-width="0.8" />
<line x1="413.59999999999997" y1="247.2" x2="418.8" y2="247.2" stroke="#3030f0" stroke-width="0.8" />
<rect x="341.7" y="330.6" width="4.4" height="4.4" fill="#fff" stroke="#333" stroke-width="0.6" rx="0" />
<rect x="365.8" y="322.13" width="4.4" height="4.4" fill="#fff" stroke="#333" stroke-width="0.6" rx="0" />
<rect x="389.9" y="315.97" width="4.4" height="4.4" fill="#fff" stroke="#333" stroke-width="0.6" rx="0" />
<rect x="414.0" y="289.79" width="4.4" height="4.4" fill="#fff" stroke="#333" stroke-width="0.6" rx="0" />
<circle cx="343.9" cy="332.8" r="2.8" fill="#000" stroke="none" stroke-width="0.6"/>
<circle cx="368.0" cy="322.79" r="2.8" fill="#000" stroke="none" stroke-width="0.6"/>
<circle cx="392.09999999999997" cy="315.86" r="2.8" fill="#000" stroke="none" stroke-width="0.6"/>
<circle cx="416.2" cy="290.45" r="2.8" fill="#000" stroke="none" stroke-width="0.6"/>
<rect x="341.59999999999997" y="330.5" width="4.6" height="4.6" fill="#1a1aff" stroke="none" stroke-width="1" rx="0" />
<rect x="365.7" y="315.09999999999997" width="4.6" height="4.6" fill="#1a1aff" stroke="none" stroke-width="1" rx="0" />
<rect x="389.79999999999995" y="290.46" width="4.6" height="4.6" fill="#1a1aff" stroke="none" stroke-width="1" rx="0" />
<rect x="413.9" y="238.87" width="4.6" height="4.6" fill="#1a1aff" stroke="none" stroke-width="1" rx="0" />
<circle cx="343.9" cy="332.8" r="2.8" fill="#ff1010" stroke="none" stroke-width="0.6"/>
<circle cx="368.0" cy="315.86" r="2.8" fill="#ff1010" stroke="none" stroke-width="0.6"/>
<circle cx="392.09999999999997" cy="290.45" r="2.8" fill="#ff1010" stroke="none" stroke-width="0.6"/>
<circle cx="416.2" cy="238.398" r="2.8" fill="#ff1010" stroke="none" stroke-width="0.6"/>
<text x="416.8" y="231.9" font-size="7.0" text-anchor="middle" fill="#f02020" font-family="DejaVu Sans, sans-serif">★★</text>
<text x="417.3" y="255.3" font-size="7.0" text-anchor="middle" fill="#2020f0" font-family="DejaVu Sans, sans-serif">★★</text>
<line x1="339.8" y1="213.6" x2="343.2" y2="213.6" stroke="#f03030" stroke-width="0.8" />
<line x1="350.6" y1="213.6" x2="354.2" y2="213.6" stroke="#f03030" stroke-width="0.8" />
<circle cx="347.1" cy="213.6" r="3.1" fill="#ff1010" stroke="none" stroke-width="0.6"/>
<text x="356.5" y="216.1" font-size="7.0" text-anchor="start" fill="#222" stroke="#222" stroke-width="0.19" >Exon 16 (G1087E)</text>
<line x1="339.8" y1="222.4" x2="343.2" y2="222.4" stroke="#3030f0" stroke-width="0.8" />
<line x1="350.6" y1="222.4" x2="354.2" y2="222.4" stroke="#3030f0" stroke-width="0.8" />
<rect x="344.8" y="220.0" width="4.8" height="4.8" fill="#1a1aff" stroke="none" stroke-width="1" rx="0" />
<text x="356.5" y="224.9" font-size="7.0" text-anchor="start" fill="#222" stroke="#222" stroke-width="0.19" >Exon 15 (G1085R)</text>
<line x1="339.8" y1="230.6" x2="343.2" y2="230.6" stroke="#555" stroke-width="0.8" />
<line x1="350.6" y1="230.6" x2="354.2" y2="230.6" stroke="#555" stroke-width="0.8" />
<rect x="345.0" y="228.4" width="4.4" height="4.4" fill="#fff" stroke="#333" stroke-width="0.7" rx="0" />
<text x="356.5" y="233.1" font-size="7.0" text-anchor="start" fill="#222" stroke="#222" stroke-width="0.19" >Exon 2 (N375S)</text>
<line x1="339.8" y1="239.2" x2="343.2" y2="239.2" stroke="#222" stroke-width="0.8" />
<line x1="350.6" y1="239.2" x2="354.2" y2="239.2" stroke="#222" stroke-width="0.8" />
<circle cx="347.1" cy="239.2" r="3.1" fill="#000" stroke="none" stroke-width="0.6"/>
<text x="356.5" y="241.7" font-size="7.0" text-anchor="start" fill="#222" stroke="#222" stroke-width="0.19" >Wild type c-MET</text>
<text x="434.0" y="189.8" font-size="14.3" text-anchor="start" fill="#1a1a1a" stroke="#1a1a1a" stroke-width="0.22" >(E)</text>
<!--HATCH-->
<rect x="466.2" y="245.26999999999998" width="14.0" height="12.930000000000007" fill="url(#hatch)" stroke="#777" stroke-width="0.7" rx="0" />
<line x1="490.35" y1="238.93429999999998" x2="490.35" y2="238.2878" stroke="#666" stroke-width="0.7" />
<line x1="488.35" y1="238.2878" x2="492.35" y2="238.2878" stroke="#666" stroke-width="0.7" />
<rect x="483.1" y="238.93429999999998" width="14.5" height="19.26570000000001" fill="url(#hatch)" stroke="#777" stroke-width="0.7" rx="0" />
<line x1="507.7" y1="224.3234" x2="507.7" y2="221.09089999999998" stroke="#666" stroke-width="0.7" />
<line x1="505.7" y1="221.09089999999998" x2="509.7" y2="221.09089999999998" stroke="#666" stroke-width="0.7" />
<rect x="500.7" y="224.3234" width="14.0" height="33.876599999999996" fill="url(#hatch)" stroke="#777" stroke-width="0.7" rx="0" />
<line x1="525.1" y1="213.9794" x2="525.1" y2="209.19529999999997" stroke="#666" stroke-width="0.7" />
<line x1="523.1" y1="209.19529999999997" x2="527.1" y2="209.19529999999997" stroke="#666" stroke-width="0.7" />
<rect x="518.0" y="213.9794" width="14.2" height="44.22059999999999" fill="url(#hatch)" stroke="#777" stroke-width="0.7" rx="0" />
<line x1="464.4" y1="206.4" x2="464.4" y2="258.2" stroke="#555" stroke-width="0.7" />
<line x1="464.4" y1="258.2" x2="533.5" y2="258.2" stroke="#555" stroke-width="0.7" />
<line x1="462.8" y1="258.2" x2="464.4" y2="258.2" stroke="#555" stroke-width="0.6" />
<text x="462.0" y="260.59999999999997" font-size="7.0" text-anchor="end" fill="#222" stroke="#222" stroke-width="0.19" >0</text>
<line x1="462.8" y1="245.26999999999998" x2="464.4" y2="245.26999999999998" stroke="#555" stroke-width="0.6" />
<text x="462.0" y="247.67" font-size="7.0" text-anchor="end" fill="#222" stroke="#222" stroke-width="0.19" >1</text>
<line x1="462.8" y1="232.33999999999997" x2="464.4" y2="232.33999999999997" stroke="#555" stroke-width="0.6" />
<text x="462.0" y="234.73999999999998" font-size="7.0" text-anchor="end" fill="#222" stroke="#222" stroke-width="0.19" >2</text>
<line x1="462.8" y1="219.41" x2="464.4" y2="219.41" stroke="#555" stroke-width="0.6" />
<text x="462.0" y="221.81" font-size="7.0" text-anchor="end" fill="#222" stroke="#222" stroke-width="0.19" >3</text>
<line x1="462.8" y1="206.48" x2="464.4" y2="206.48" stroke="#555" stroke-width="0.6" />
<text x="462.0" y="208.88" font-size="7.0" text-anchor="end" fill="#222" stroke="#222" stroke-width="0.19" >4</text>
<text x="507.7" y="219.9" font-size="6.3" text-anchor="middle" fill="#111" font-family="DejaVu Sans, sans-serif">★</text>
<text x="525.2" y="208.3" font-size="6.3" text-anchor="middle" fill="#111" font-family="DejaVu Sans, sans-serif">★</text>
<text x="0" y="0" font-size="7.1" text-anchor="middle" fill="#1a1a1a" stroke="#1a1a1a" stroke-width="0.20" transform="translate(447.4 233.1) rotate(-90)" >Invasion assay</text>
<text x="0" y="0" font-size="6.5" text-anchor="middle" fill="#1a1a1a" stroke="#1a1a1a" stroke-width="0.18" transform="translate(454.3 231.9) rotate(-90)" >(relative of control)</text>
<rect x="466.2" y="309.5" width="14.0" height="10.100000000000023" fill="#c2c2c2" stroke="#777" stroke-width="0.7" rx="0" />
<line x1="490.35" y1="308.692" x2="490.35" y2="308.086" stroke="#666" stroke-width="0.7" />
<line x1="488.35" y1="308.086" x2="492.35" y2="308.086" stroke="#666" stroke-width="0.7" />
<rect x="483.1" y="308.692" width="14.5" height="10.908000000000015" fill="#c2c2c2" stroke="#777" stroke-width="0.7" rx="0" />
<line x1="507.7" y1="277.382" x2="507.7" y2="270.11" stroke="#666" stroke-width="0.7" />
<line x1="505.7" y1="270.11" x2="509.7" y2="270.11" stroke="#666" stroke-width="0.7" />
<rect x="500.7" y="277.382" width="14.0" height="42.21800000000002" fill="#c2c2c2" stroke="#777" stroke-width="0.7" rx="0" />
<line x1="525.1" y1="275.16" x2="525.1" y2="269.403" stroke="#666" stroke-width="0.7" />
<line x1="523.1" y1="269.403" x2="527.1" y2="269.403" stroke="#666" stroke-width="0.7" />
<rect x="518.0" y="275.16" width="14.2" height="44.44" fill="#c2c2c2" stroke="#777" stroke-width="0.7" rx="0" />
<line x1="464.2" y1="267.3" x2="464.2" y2="319.6" stroke="#555" stroke-width="0.7" />
<line x1="464.2" y1="319.6" x2="533.5" y2="319.6" stroke="#555" stroke-width="0.7" />
<line x1="462.6" y1="319.6" x2="464.2" y2="319.6" stroke="#555" stroke-width="0.6" />
<text x="462.0" y="322.0" font-size="7.0" text-anchor="end" fill="#222" stroke="#222" stroke-width="0.19" >0</text>
<line x1="462.6" y1="309.5" x2="464.2" y2="309.5" stroke="#555" stroke-width="0.6" />
<text x="462.0" y="311.9" font-size="7.0" text-anchor="end" fill="#222" stroke="#222" stroke-width="0.19" >1</text>
<line x1="462.6" y1="299.40000000000003" x2="464.2" y2="299.40000000000003" stroke="#555" stroke-width="0.6" />
<text x="462.0" y="301.8" font-size="7.0" text-anchor="end" fill="#222" stroke="#222" stroke-width="0.19" >2</text>
<line x1="462.6" y1="289.3" x2="464.2" y2="289.3" stroke="#555" stroke-width="0.6" />
<text x="462.0" y="291.7" font-size="7.0" text-anchor="end" fill="#222" stroke="#222" stroke-width="0.19" >3</text>
<line x1="462.6" y1="279.20000000000005" x2="464.2" y2="279.20000000000005" stroke="#555" stroke-width="0.6" />
<text x="462.0" y="281.6" font-size="7.0" text-anchor="end" fill="#222" stroke="#222" stroke-width="0.19" >4</text>
<line x1="462.6" y1="269.1" x2="464.2" y2="269.1" stroke="#555" stroke-width="0.6" />
<text x="462.0" y="271.5" font-size="7.0" text-anchor="end" fill="#222" stroke="#222" stroke-width="0.19" >5</text>
<text x="507.7" y="268.4" font-size="6.3" text-anchor="middle" fill="#111" font-family="DejaVu Sans, sans-serif">★★</text>
<text x="525.3" y="268.3" font-size="6.3" text-anchor="middle" fill="#111" font-family="DejaVu Sans, sans-serif">★★</text>
<text x="0" y="0" font-size="7.05" text-anchor="middle" fill="#1a1a1a" stroke="#1a1a1a" stroke-width="0.19" transform="translate(447.4 293.9) rotate(-90)" >Migration assay</text>
<text x="0" y="0" font-size="6.6" text-anchor="middle" fill="#1a1a1a" stroke="#1a1a1a" stroke-width="0.18" transform="translate(454.3 293.1) rotate(-90)" >(relative of control)</text>
<text x="0" y="0" font-size="7.0" text-anchor="end" fill="#1a1a1a" stroke="#1a1a1a" stroke-width="0.19" transform="translate(476.6 329.8) rotate(-90)" >Wild type c-MET</text>
<text x="0" y="0" font-size="5.7" text-anchor="end" fill="#1a1a1a" stroke="#1a1a1a" stroke-width="0.16" transform="translate(493.8 328.8) rotate(-90)" >Exon 2 (N375S)</text>
<text x="0" y="0" font-size="5.7" text-anchor="end" fill="#1a1a1a" stroke="#1a1a1a" stroke-width="0.16" transform="translate(510.0 322.6) rotate(-90)" >Exon 15 (G1085R)</text>
<text x="0" y="0" font-size="5.7" text-anchor="end" fill="#1a1a1a" stroke="#1a1a1a" stroke-width="0.16" transform="translate(527.2 322.6) rotate(-90)" >Exon 16 (G1087E)</text>
<line x1="489.0" y1="372.9" x2="532.8" y2="372.9" stroke="#111" stroke-width="1.4" />
<text x="484.6" y="383.4" font-size="7.0" text-anchor="start" fill="#1a1a1a" stroke="#1a1a1a" stroke-width="0.19" >c-MET mutation</text>
</svg>
</body></html>
